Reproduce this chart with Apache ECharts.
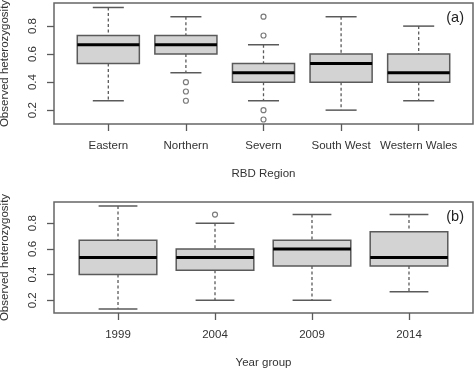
<!DOCTYPE html>
<html>
<head>
<meta charset="utf-8">
<script src="https://cdn.jsdelivr.net/npm/echarts@6/dist/echarts.min.js"></script>
<style>
html,body{margin:0;padding:0;background:#fff;}
#chart{width:474px;height:370px;}
</style>
</head>
<body>
<div id="chart"></div>
<script>
// Panel (a): RBD regions
const regionCats = ['Eastern', 'Northern', 'Severn', 'South West', 'Western Wales'];
const regionLow  = [0.267, 0.467, 0.267, 0.200, 0.267];
const regionQ1   = [0.533, 0.600, 0.400, 0.400, 0.400];
const regionMed  = [0.667, 0.667, 0.467, 0.533, 0.467];
const regionQ3   = [0.733, 0.733, 0.533, 0.600, 0.600];
const regionHigh = [0.933, 0.867, 0.667, 0.867, 0.800];
const regionOutlierCat = [2, 2, 2, 3, 3, 3, 3];
const regionOutlierVal = [0.400, 0.333, 0.267, 0.867, 0.733, 0.200, 0.133];

// Panel (b): year groups
const yearCats = ['1999', '2004', '2009', '2014'];
const yearLow  = [0.133, 0.200, 0.200, 0.267];
const yearQ1   = [0.400, 0.433, 0.467, 0.467];
const yearMed  = [0.533, 0.533, 0.600, 0.533];
const yearQ3   = [0.667, 0.600, 0.667, 0.733];
const yearHigh = [0.933, 0.800, 0.867, 0.867];
const yearOutlierCat = [2];
const yearOutlierVal = [0.867];

const yTicks = [0.2, 0.4, 0.6, 0.8];
const yMin = 0.101, yMax = 0.965;

const FONT = 'Liberation Sans, Arial, Helvetica, sans-serif';
const LINE = '#5a5a5a';
const TXT = '#333333';

function boxData(low, q1, med, q3, high) {
  return low.map((v, i) => [i + 1, low[i], q1[i], med[i], q3[i], high[i]]);
}
function outData(cats, vals) {
  return cats.map((c, i) => [c, vals[i]]);
}

function renderBox(params, api) {
  const x = api.value(0);
  const pLow = api.coord([x, api.value(1)]);
  const pQ1 = api.coord([x, api.value(2)]);
  const pMed = api.coord([x, api.value(3)]);
  const pQ3 = api.coord([x, api.value(4)]);
  const pHigh = api.coord([x, api.value(5)]);
  const bw = api.size([0.8, 0])[0];
  const cx = pMed[0];
  const dashStyle = {stroke: LINE, lineWidth: 1.3, lineDash: [3, 2.5]};
  const solid = {stroke: LINE, lineWidth: 1.5};
  return {
    type: 'group',
    children: [
      {type: 'line', shape: {x1: cx, y1: pHigh[1], x2: cx, y2: pQ3[1]}, style: dashStyle},
      {type: 'line', shape: {x1: cx, y1: pQ1[1], x2: cx, y2: pLow[1]}, style: dashStyle},
      {type: 'line', shape: {x1: cx - bw / 4, y1: pHigh[1], x2: cx + bw / 4, y2: pHigh[1]}, style: solid},
      {type: 'line', shape: {x1: cx - bw / 4, y1: pLow[1], x2: cx + bw / 4, y2: pLow[1]}, style: solid},
      {type: 'rect', shape: {x: cx - bw / 2, y: pQ3[1], width: bw, height: pQ1[1] - pQ3[1]},
        style: {fill: '#d3d3d3', stroke: LINE, lineWidth: 1.5}},
      {type: 'line', shape: {x1: cx - bw / 2, y1: pMed[1], x2: cx + bw / 2, y2: pMed[1]},
        style: {stroke: '#000', lineWidth: 3}}
    ]
  };
}

function xAxisFor(gridIndex, cats, name) {
  const vals = cats.map((c, i) => i + 1);
  const ext = 0.04 * cats.length;
  return {
    type: 'value', gridIndex: gridIndex,
    min: 0.5 - ext, max: cats.length + 0.5 + ext,
    name: name, nameLocation: 'middle', nameGap: 43.5,
    nameTextStyle: {fontFamily: FONT, fontSize: 11.5, color: TXT},
    axisLine: {show: false},
    splitLine: {show: false},
    axisTick: {show: true, length: 7, customValues: vals, lineStyle: {color: LINE, width: 1.3}},
    axisLabel: {show: true, customValues: vals, margin: 15.5, fontFamily: FONT, fontSize: 11.5, color: TXT,
      formatter: v => cats[Math.round(v) - 1]}
  };
}
function yAxisFor(gridIndex) {
  return {
    type: 'value', gridIndex: gridIndex, min: yMin, max: yMax,
    name: 'Observed heterozygosity', nameLocation: 'middle', nameGap: 43,
    nameTextStyle: {fontFamily: FONT, fontSize: 11.5, color: TXT},
    axisLine: {show: false},
    splitLine: {show: false},
    axisTick: {show: true, length: 7, customValues: yTicks, lineStyle: {color: LINE, width: 1.3}},
    axisLabel: {show: true, customValues: yTicks, rotate: 90, margin: 15, fontFamily: FONT, fontSize: 11.5, color: TXT,
      formatter: v => String(Math.round(v * 10) / 10)}
  };
}

const chart = echarts.init(document.getElementById('chart'), null, {renderer: 'canvas'});
chart.setOption({
  animation: false,
  backgroundColor: '#fff',
  title: [
    {text: '(a)', right: 5, top: 5, textStyle: {fontFamily: FONT, fontSize: 14.5, fontWeight: 'normal', color: '#222'}},
    {text: '(b)', right: 5, top: 204, textStyle: {fontFamily: FONT, fontSize: 14.5, fontWeight: 'normal', color: '#222'}}
  ],
  grid: [
    {left: 54, top: 3, width: 419, height: 121, show: true, borderColor: '#666', borderWidth: 1.5,
      backgroundColor: 'transparent', containLabel: false, outerBoundsMode: 'none'},
    {left: 54, top: 202, width: 419, height: 111, show: true, borderColor: '#666', borderWidth: 1.5,
      backgroundColor: 'transparent', containLabel: false, outerBoundsMode: 'none'}
  ],
  xAxis: [xAxisFor(0, regionCats, 'RBD Region'), xAxisFor(1, yearCats, 'Year group')],
  yAxis: [yAxisFor(0), yAxisFor(1)],
  series: [
    {type: 'custom', xAxisIndex: 0, yAxisIndex: 0, renderItem: renderBox,
      encode: {x: 0, y: [1, 2, 3, 4, 5]},
      data: boxData(regionLow, regionQ1, regionMed, regionQ3, regionHigh)},
    {type: 'scatter', xAxisIndex: 0, yAxisIndex: 0, symbol: 'circle', symbolSize: 5,
      itemStyle: {color: 'transparent', borderColor: LINE, borderWidth: 1.2},
      data: outData(regionOutlierCat, regionOutlierVal)},
    {type: 'custom', xAxisIndex: 1, yAxisIndex: 1, renderItem: renderBox,
      encode: {x: 0, y: [1, 2, 3, 4, 5]},
      data: boxData(yearLow, yearQ1, yearMed, yearQ3, yearHigh)},
    {type: 'scatter', xAxisIndex: 1, yAxisIndex: 1, symbol: 'circle', symbolSize: 5,
      itemStyle: {color: 'transparent', borderColor: LINE, borderWidth: 1.2},
      data: outData(yearOutlierCat, yearOutlierVal)}
  ]
});
</script>
</body>
</html>
